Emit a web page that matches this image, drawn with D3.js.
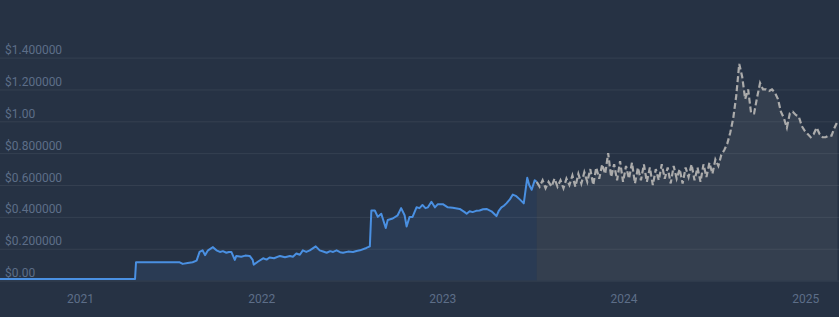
<!DOCTYPE html>
<html>
<head>
<meta charset="utf-8">
<script src="https://cdn.jsdelivr.net/npm/d3@7"></script>
<style>
  html, body { margin: 0; padding: 0; background: #263244; }
  svg { display: block; }
</style>
</head>
<body>
<div id="chart"></div>
<script>
// Dimensions
const width = 839, height = 317;

// Historical price (blue)
const histDates = [
  "2020-07-24", "2021-04-22", "2021-04-24", "2021-07-21", "2021-07-27", "2021-08-06",
  "2021-08-16", "2021-08-24", "2021-08-30", "2021-09-05", "2021-09-10", "2021-09-16",
  "2021-09-26", "2021-10-03", "2021-10-10", "2021-10-16", "2021-10-23", "2021-10-28",
  "2021-11-02", "2021-11-09", "2021-11-12", "2021-11-22", "2021-11-30", "2021-12-09",
  "2021-12-15", "2021-12-17", "2021-12-26", "2022-01-05", "2022-01-12", "2022-01-18",
  "2022-01-27", "2022-02-08", "2022-02-18", "2022-02-28", "2022-03-06", "2022-03-13",
  "2022-03-20", "2022-03-26", "2022-04-02", "2022-04-09", "2022-04-21", "2022-04-29",
  "2022-05-06", "2022-05-13", "2022-05-20", "2022-05-26", "2022-06-02", "2022-06-09",
  "2022-06-15", "2022-06-25", "2022-07-05", "2022-07-12", "2022-07-19", "2022-08-01",
  "2022-08-08", "2022-08-11", "2022-08-18", "2022-08-24", "2022-08-31", "2022-09-09",
  "2022-09-13", "2022-09-23", "2022-10-03", "2022-10-10", "2022-10-17", "2022-10-21",
  "2022-10-27", "2022-11-02", "2022-11-10", "2022-11-16", "2022-11-22", "2022-11-28",
  "2022-12-03", "2022-12-10", "2022-12-17", "2022-12-23", "2023-01-02", "2023-01-12",
  "2023-01-22", "2023-02-05", "2023-02-15", "2023-02-19", "2023-02-25", "2023-03-03",
  "2023-03-10", "2023-03-17", "2023-03-24", "2023-03-31", "2023-04-10", "2023-04-20",
  "2023-04-25", "2023-04-30", "2023-05-05", "2023-05-10", "2023-05-17", "2023-05-23",
  "2023-05-30", "2023-06-06", "2023-06-14", "2023-06-21", "2023-06-25", "2023-06-30",
  "2023-07-06", "2023-07-10"
];
const histValues = [
  0.01, 0.01, 0.115, 0.115, 0.105, 0.11,
  0.115, 0.125, 0.18, 0.19, 0.16, 0.19,
  0.21, 0.19, 0.18, 0.185, 0.175, 0.18,
  0.18, 0.13, 0.155, 0.15, 0.157, 0.155,
  0.13, 0.10, 0.12, 0.14, 0.132, 0.145,
  0.14, 0.155, 0.147, 0.155, 0.15, 0.17,
  0.162, 0.19, 0.18, 0.19, 0.215, 0.19,
  0.183, 0.175, 0.185, 0.18, 0.19, 0.178,
  0.175, 0.182, 0.18, 0.186, 0.19, 0.205,
  0.215, 0.44, 0.44, 0.40, 0.42, 0.33,
  0.38, 0.39, 0.41, 0.455, 0.41, 0.34,
  0.40, 0.40, 0.46, 0.455, 0.475, 0.455,
  0.46, 0.495, 0.46, 0.48, 0.48, 0.46,
  0.457, 0.45, 0.43, 0.42, 0.435, 0.43,
  0.438, 0.44, 0.448, 0.45, 0.435, 0.405,
  0.44, 0.46, 0.47, 0.485, 0.51, 0.54,
  0.53, 0.51, 0.485, 0.645, 0.6, 0.57,
  0.63, 0.62
];

// Forecast (grey dashed), one reading every 6 days from the start date
const forecastStart = "2023-07-10";
const forecastStepDays = 6;
const forecastValues = [
  0.62, 0.59, 0.63, 0.58, 0.62, 0.59, 0.64, 0.59, 0.63, 0.58,
  0.64, 0.60, 0.66, 0.59, 0.67, 0.61, 0.68, 0.62, 0.70, 0.60,
  0.71, 0.64, 0.73, 0.67, 0.80, 0.65, 0.73, 0.63, 0.75, 0.62,
  0.72, 0.64, 0.74, 0.61, 0.71, 0.63, 0.73, 0.62, 0.71, 0.60,
  0.70, 0.63, 0.73, 0.64, 0.71, 0.61, 0.72, 0.64, 0.70, 0.61,
  0.71, 0.65, 0.73, 0.63, 0.71, 0.62, 0.73, 0.65, 0.74, 0.67,
  0.76, 0.72, 0.79, 0.82, 0.86, 0.93, 1.02, 1.16, 1.36, 1.28,
  1.14, 1.20, 1.05, 1.05, 1.15, 1.24, 1.20, 1.20, 1.19, 1.20,
  1.18, 1.14, 1.06, 1.02, 0.96, 1.05, 1.06, 1.04, 1.03, 0.97,
  0.94, 0.92, 0.90, 0.92, 0.96, 0.92, 0.90, 0.90, 0.91, 0.91,
  0.96, 1.00
];

// Axis ticks
const xDomain = ["2020-07-24", "2025-03-10"];
const xTickDates = ["2021-01-01", "2022-01-01", "2023-01-01", "2024-01-01", "2025-01-01"];
const yTicks = [0, 0.2, 0.4, 0.6, 0.8, 1.0, 1.2, 1.4];
const yTickLabels = ["$0.00", "$0.200000", "$0.400000", "$0.600000", "$0.800000", "$1.00", "$1.200000", "$1.400000"];

const parse = d3.timeParse("%Y-%m-%d");
const hist = histDates.map((d, i) => ({date: parse(d), value: histValues[i]}));
const fStart = parse(forecastStart);
const forecast = forecastValues.map((v, i) => ({date: d3.timeDay.offset(fStart, i * forecastStepDays), value: v}));

const svg = d3.select("#chart")
    .append("svg")
    .attr("width", width)
    .attr("height", height);

svg.append("rect")
    .attr("width", width)
    .attr("height", height)
    .attr("fill", "#263244");

const x = d3.scaleTime()
    .domain(xDomain.map(parse))
    .range([0, width]);

const y = d3.scaleLinear()
    .domain([0, 1.4])
    .range([280.6, 57.6]);

const area = d3.area()
    .x(d => x(d.date))
    .y0(y(0))
    .y1(d => y(d.value));

const line = d3.line()
    .x(d => x(d.date))
    .y(d => y(d.value));

// Areas under the lines
svg.append("path")
    .datum(hist)
    .attr("d", area)
    .attr("fill", "#4a90e2")
    .attr("fill-opacity", 0.1);

svg.append("path")
    .datum(forecast)
    .attr("d", area)
    .attr("fill", "#b0b0b0")
    .attr("fill-opacity", 0.11);

// Y grid + labels
const yAxis = svg.append("g")
    .call(d3.axisRight(y)
        .tickValues(yTicks)
        .tickSize(width)
        .tickFormat((d, i) => yTickLabels[i]));

yAxis.select(".domain").remove();
yAxis.selectAll(".tick line")
    .attr("stroke", "#ffffff")
    .attr("stroke-opacity", 0.07);
yAxis.selectAll(".tick text")
    .attr("x", 5)
    .attr("dy", -4)
    .attr("text-anchor", "start")
    .attr("fill", "#5d6e88")
    .style("font-family", "Roboto, sans-serif")
    .style("font-size", "12px");

// X axis labels
const xAxis = svg.append("g")
    .attr("transform", "translate(0," + y(0) + ")")
    .call(d3.axisBottom(x)
        .tickValues(xTickDates.map(parse))
        .tickSize(0)
        .tickFormat(d3.timeFormat("%Y")));

xAxis.select(".domain").remove();
xAxis.selectAll(".tick text")
    .attr("y", 22)
    .attr("dy", 0)
    .attr("fill", "#5d6e88")
    .style("font-family", "Roboto, sans-serif")
    .style("font-size", "12px");

// Lines
svg.append("path")
    .datum(hist)
    .attr("d", line)
    .attr("fill", "none")
    .attr("stroke", "#4a90e2")
    .attr("stroke-width", 2)
    .attr("stroke-linejoin", "round");

svg.append("path")
    .datum(forecast)
    .attr("d", line)
    .attr("fill", "none")
    .attr("stroke", "#ababab")
    .attr("stroke-width", 2.2)
    .attr("stroke-dasharray", "6,3");
</script>
</body>
</html>
